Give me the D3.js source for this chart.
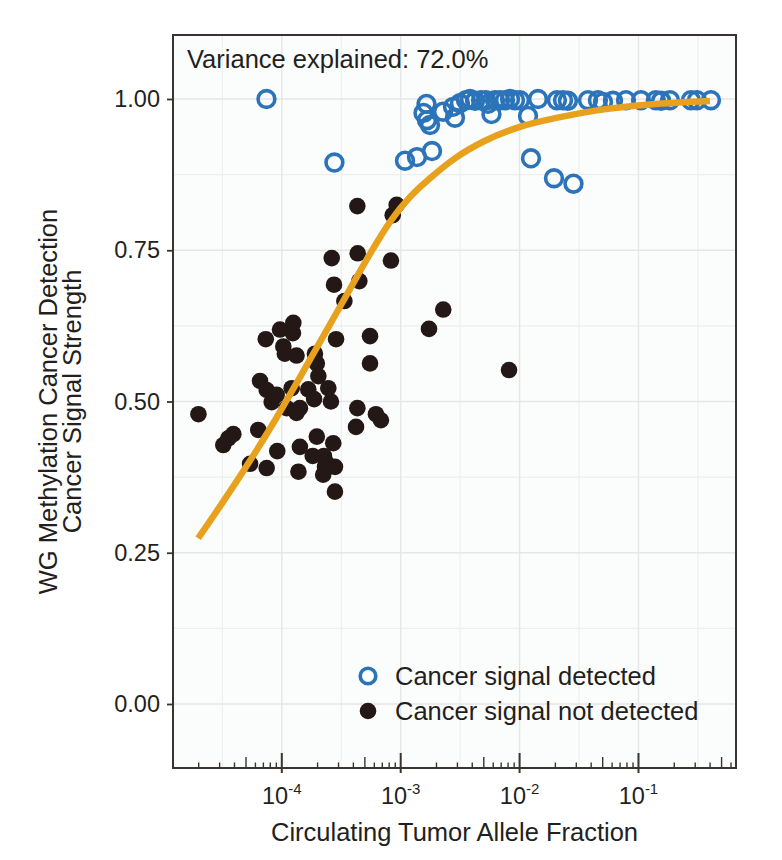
<!DOCTYPE html>
<html>
<head>
<meta charset="utf-8">
<script src="https://cdn.jsdelivr.net/npm/d3@7"></script>
<style>
  body { margin: 0; background: #fff; }
  text { font-family: "Liberation Sans", Arial, sans-serif; fill: #231f20; }
</style>
</head>
<body>
<div id="chart"></div>
<script>
//Width and height
let w = 782;
let h = 860;
let margin = {top: 35, right: 46, bottom: 92, left: 173};

// cancer signal detected (open circles): ctAF and signal strength
const detectedCTAF = [7.43e-5, 2.77e-4, 1.087e-3, 1.371e-3, 1.834e-3, 1.648e-3, 1.555e-3, 1.664e-3,
  1.764e-3, 2.27e-3, 2.754e-3, 2.86e-3, 3.54e-3, 3.83e-3, 4.22e-3, 4.74e-3, 5.22e-3, 5.80e-3,
  6.21e-3, 6.84e-3, 7.54e-3, 8.31e-3, 9.15e-3, 1.008e-2, 1.177e-2, 1.428e-2, 1.247e-2, 1.947e-2,
  2.84e-2, 2.06e-2, 2.32e-2, 2.55e-2, 3.76e-2, 4.56e-2, 5.03e-2, 6.10e-2, 7.85e-2, 0.105,
  0.140, 0.155, 0.184, 0.276, 0.310, 0.407, 3.15e-3, 5.42e-3];
const detectedScore = [1.0, 0.895, 0.898, 0.904, 0.914, 0.992, 0.977, 0.965,
  0.957, 0.979, 0.987, 0.969, 0.998, 1.0, 0.997, 0.998, 0.998, 0.975,
  0.998, 0.998, 0.998, 1.0, 0.998, 0.998, 0.972, 1.0, 0.902, 0.869,
  0.860, 0.998, 0.998, 0.997, 0.998, 0.998, 0.995, 0.997, 0.998, 0.998,
  0.998, 0.997, 0.998, 0.998, 0.998, 0.998, 0.993, 0.992];

// cancer signal not detected (filled circles)
const notDetectedCTAF = [4.32e-4, 9.25e-4, 8.57e-4, 2.63e-4, 4.35e-4, 8.28e-4, 2.75e-4, 4.49e-4,
  3.36e-4, 2.28e-3, 1.73e-3, 1.25e-4, 9.66e-5, 1.24e-4, 7.33e-5, 2.86e-4, 5.52e-4, 1.03e-4,
  1.06e-4, 1.33e-4, 1.90e-4, 5.52e-4, 1.97e-4, 2.03e-4, 6.56e-5, 7.46e-5, 8.49e-5, 8.22e-5,
  1.21e-4, 1.67e-4, 2.46e-4, 1.87e-4, 2.59e-4, 1.10e-4, 1.42e-4, 1.33e-4, 1.99e-5, 4.32e-4,
  6.19e-4, 6.82e-4, 4.21e-4, 3.91e-5, 3.55e-5, 3.22e-5, 6.34e-5, 1.97e-4, 2.71e-4, 1.42e-4,
  9.16e-5, 1.82e-4, 2.26e-4, 5.41e-5, 7.46e-5, 1.38e-4, 2.31e-4, 2.80e-4, 2.23e-4, 2.80e-4,
  8.15e-3, 2.35e-4, 9.06e-5];
const notDetectedScore = [0.823, 0.825, 0.808, 0.737, 0.745, 0.733, 0.693, 0.699,
  0.666, 0.652, 0.620, 0.630, 0.619, 0.613, 0.603, 0.603, 0.608, 0.591,
  0.579, 0.576, 0.579, 0.563, 0.563, 0.542, 0.534, 0.519, 0.508, 0.499,
  0.522, 0.520, 0.522, 0.504, 0.500, 0.489, 0.489, 0.481, 0.479, 0.489,
  0.479, 0.469, 0.458, 0.446, 0.439, 0.428, 0.453, 0.442, 0.431, 0.425,
  0.418, 0.410, 0.410, 0.397, 0.390, 0.384, 0.392, 0.392, 0.379, 0.351,
  0.552, 0.400, 0.511];

// fitted curve
const fitCTAF = [1.98e-5, 3.33e-5, 5.40e-5, 8.77e-5, 1.42e-4, 2.31e-4, 3.75e-4, 5.52e-4,
  8.13e-4, 1.197e-3, 1.764e-3, 2.86e-3, 5.12e-3, 1.008e-2, 2.19e-2, 4.75e-2, 0.125, 0.399];
const fitScore = [0.274, 0.339, 0.402, 0.469, 0.540, 0.613, 0.686, 0.744,
  0.797, 0.838, 0.869, 0.902, 0.931, 0.954, 0.970, 0.982, 0.991, 0.9967];

const yTicks = [0, 0.25, 0.5, 0.75, 1];
const yMinorTicks = [0.125, 0.375, 0.625, 0.875];
const xTickExps = [-4, -3, -2, -1];
const varianceLabel = "Variance explained: 72.0%";
const legendLabels = ["Cancer signal detected", "Cancer signal not detected"];

let blue = "#2b74b9";
let dark = "#231815";
let orange = "#e8a11c";

let x = d3.scaleLog().domain([1.216e-5, 0.661]).range([margin.left, w - margin.right]);
let y = d3.scaleLinear().domain([-0.1058, 1.1058]).range([h - margin.bottom, margin.top]);

let svg = d3.select("#chart").append("svg")
    .attr("width", w)
    .attr("height", h);

let x0 = margin.left, x1 = w - margin.right;
let y0 = margin.top, y1 = h - margin.bottom;

// panel background
svg.append("rect")
    .attr("x", x0).attr("y", y0)
    .attr("width", x1 - x0).attr("height", y1 - y0)
    .style("fill", "#fbfcfc");

// grid
let xMajor = xTickExps.map(function(e) { return Math.pow(10, e); });
let xMinor = [-4.5, -3.5, -2.5, -1.5, -0.5].map(function(e) { return Math.pow(10, e); });

svg.selectAll(".vminor").data(xMinor).enter().append("line")
    .attr("x1", function(d) { return x(d); }).attr("x2", function(d) { return x(d); })
    .attr("y1", y0).attr("y2", y1)
    .style("stroke", "#eeeeee").style("stroke-width", 1.1);
svg.selectAll(".hminor").data(yMinorTicks).enter().append("line")
    .attr("x1", x0).attr("x2", x1)
    .attr("y1", function(d) { return y(d); }).attr("y2", function(d) { return y(d); })
    .style("stroke", "#eeeeee").style("stroke-width", 1.1);
svg.selectAll(".vmajor").data(xMajor).enter().append("line")
    .attr("x1", function(d) { return x(d); }).attr("x2", function(d) { return x(d); })
    .attr("y1", y0).attr("y2", y1)
    .style("stroke", "#e6e6e6").style("stroke-width", 1.4);
svg.selectAll(".hmajor").data(yTicks).enter().append("line")
    .attr("x1", x0).attr("x2", x1)
    .attr("y1", function(d) { return y(d); }).attr("y2", function(d) { return y(d); })
    .style("stroke", "#e6e6e6").style("stroke-width", 1.4);

// points
svg.selectAll(".nd").data(d3.range(notDetectedCTAF.length)).enter().append("circle")
    .attr("cx", function(i) { return x(notDetectedCTAF[i]); })
    .attr("cy", function(i) { return y(notDetectedScore[i]); })
    .attr("r", 8.3)
    .style("fill", dark);

svg.selectAll(".det").data(d3.range(detectedCTAF.length)).enter().append("circle")
    .attr("cx", function(i) { return x(detectedCTAF[i]); })
    .attr("cy", function(i) { return y(detectedScore[i]); })
    .attr("r", 8.4)
    .style("fill", "none")
    .style("stroke", blue)
    .style("stroke-width", 3.6);

// fitted curve
let line = d3.line()
    .x(function(i) { return x(fitCTAF[i]); })
    .y(function(i) { return y(fitScore[i]); })
    .curve(d3.curveMonotoneX);
svg.append("path")
    .attr("d", line(d3.range(fitCTAF.length)))
    .style("fill", "none")
    .style("stroke", orange)
    .style("stroke-width", 6.5)
    .style("stroke-linecap", "butt");

// panel border
svg.append("rect")
    .attr("x", x0).attr("y", y0)
    .attr("width", x1 - x0).attr("height", y1 - y0)
    .style("fill", "none")
    .style("stroke", "#38342f")
    .style("stroke-width", 2);

// y axis ticks and labels
let yAxis = d3.axisLeft(y).tickValues(yTicks).tickSize(6).tickPadding(7)
    .tickFormat(d3.format(".2f"));
let gy = svg.append("g").attr("transform", "translate(" + x0 + ",0)").call(yAxis);
gy.select(".domain").remove();
gy.selectAll("line").style("stroke", "#38342f").style("stroke-width", 1.8);
gy.selectAll("text").style("font-size", "23.5px").style("fill", "#231f20")
    .attr("font-family", null);

// x log ticks (inside the panel) plus short outside stub at decades
let logTicks = [];
for (let e = -5; e <= -1; e++) {
    for (let m = 1; m <= 9; m++) {
        let v = m * Math.pow(10, e);
        if (v >= x.domain()[0] && v <= x.domain()[1]) logTicks.push({v: v, m: m});
    }
}
svg.selectAll(".logtick").data(logTicks).enter().append("line")
    .attr("x1", function(d) { return x(d.v); }).attr("x2", function(d) { return x(d.v); })
    .attr("y1", function(d) { return d.m == 1 ? y1 + 5 : y1; })
    .attr("y2", function(d) { return d.m == 1 ? y1 - 15 : (d.m == 5 ? y1 - 11 : y1 - 5.5); })
    .style("stroke", "#38342f")
    .style("stroke-width", function(d) { return d.m == 1 ? 2 : 1.4; });

// x tick labels 10^n
let xl = svg.selectAll(".xlab").data(xTickExps).enter().append("text")
    .attr("x", function(d) { return x(Math.pow(10, d)); })
    .attr("y", y1 + 36)
    .attr("text-anchor", "middle")
    .style("font-size", "23.5px");
xl.append("tspan").text("10");
xl.append("tspan").attr("dy", -10).style("font-size", "15px").text(function(d) { return "-" + Math.abs(d); });

// axis titles
svg.append("text")
    .attr("x", (x0 + x1) / 2).attr("y", 841)
    .attr("text-anchor", "middle")
    .style("font-size", "25.5px")
    .text("Circulating Tumor Allele Fraction");

let yTitle = svg.append("text")
    .attr("transform", "translate(57," + ((y0 + y1) / 2) + ") rotate(-90)")
    .attr("text-anchor", "middle")
    .style("font-size", "25.5px");
yTitle.append("tspan").attr("x", 0).attr("dy", 0).text("WG Methylation Cancer Detection");
yTitle.append("tspan").attr("x", 0).attr("dy", 24).text("Cancer Signal Strength");

// annotation
svg.append("text")
    .attr("x", 187).attr("y", 68)
    .style("font-size", "25.5px")
    .text(varianceLabel);

// legend
let legend = svg.append("g").attr("transform", "translate(368,676)");
legend.append("circle").attr("cx", 0).attr("cy", 0).attr("r", 7.8)
    .style("fill", "#fff").style("stroke", blue).style("stroke-width", 3.6);
legend.append("circle").attr("cx", 0).attr("cy", 35).attr("r", 8.3)
    .style("fill", dark);
legend.selectAll(".lt").data(legendLabels).enter().append("text")
    .attr("x", 27)
    .attr("y", function(d, i) { return i * 35 + 9; })
    .style("font-size", "25.5px")
    .text(function(d) { return d; });
</script>
</body>
</html>
